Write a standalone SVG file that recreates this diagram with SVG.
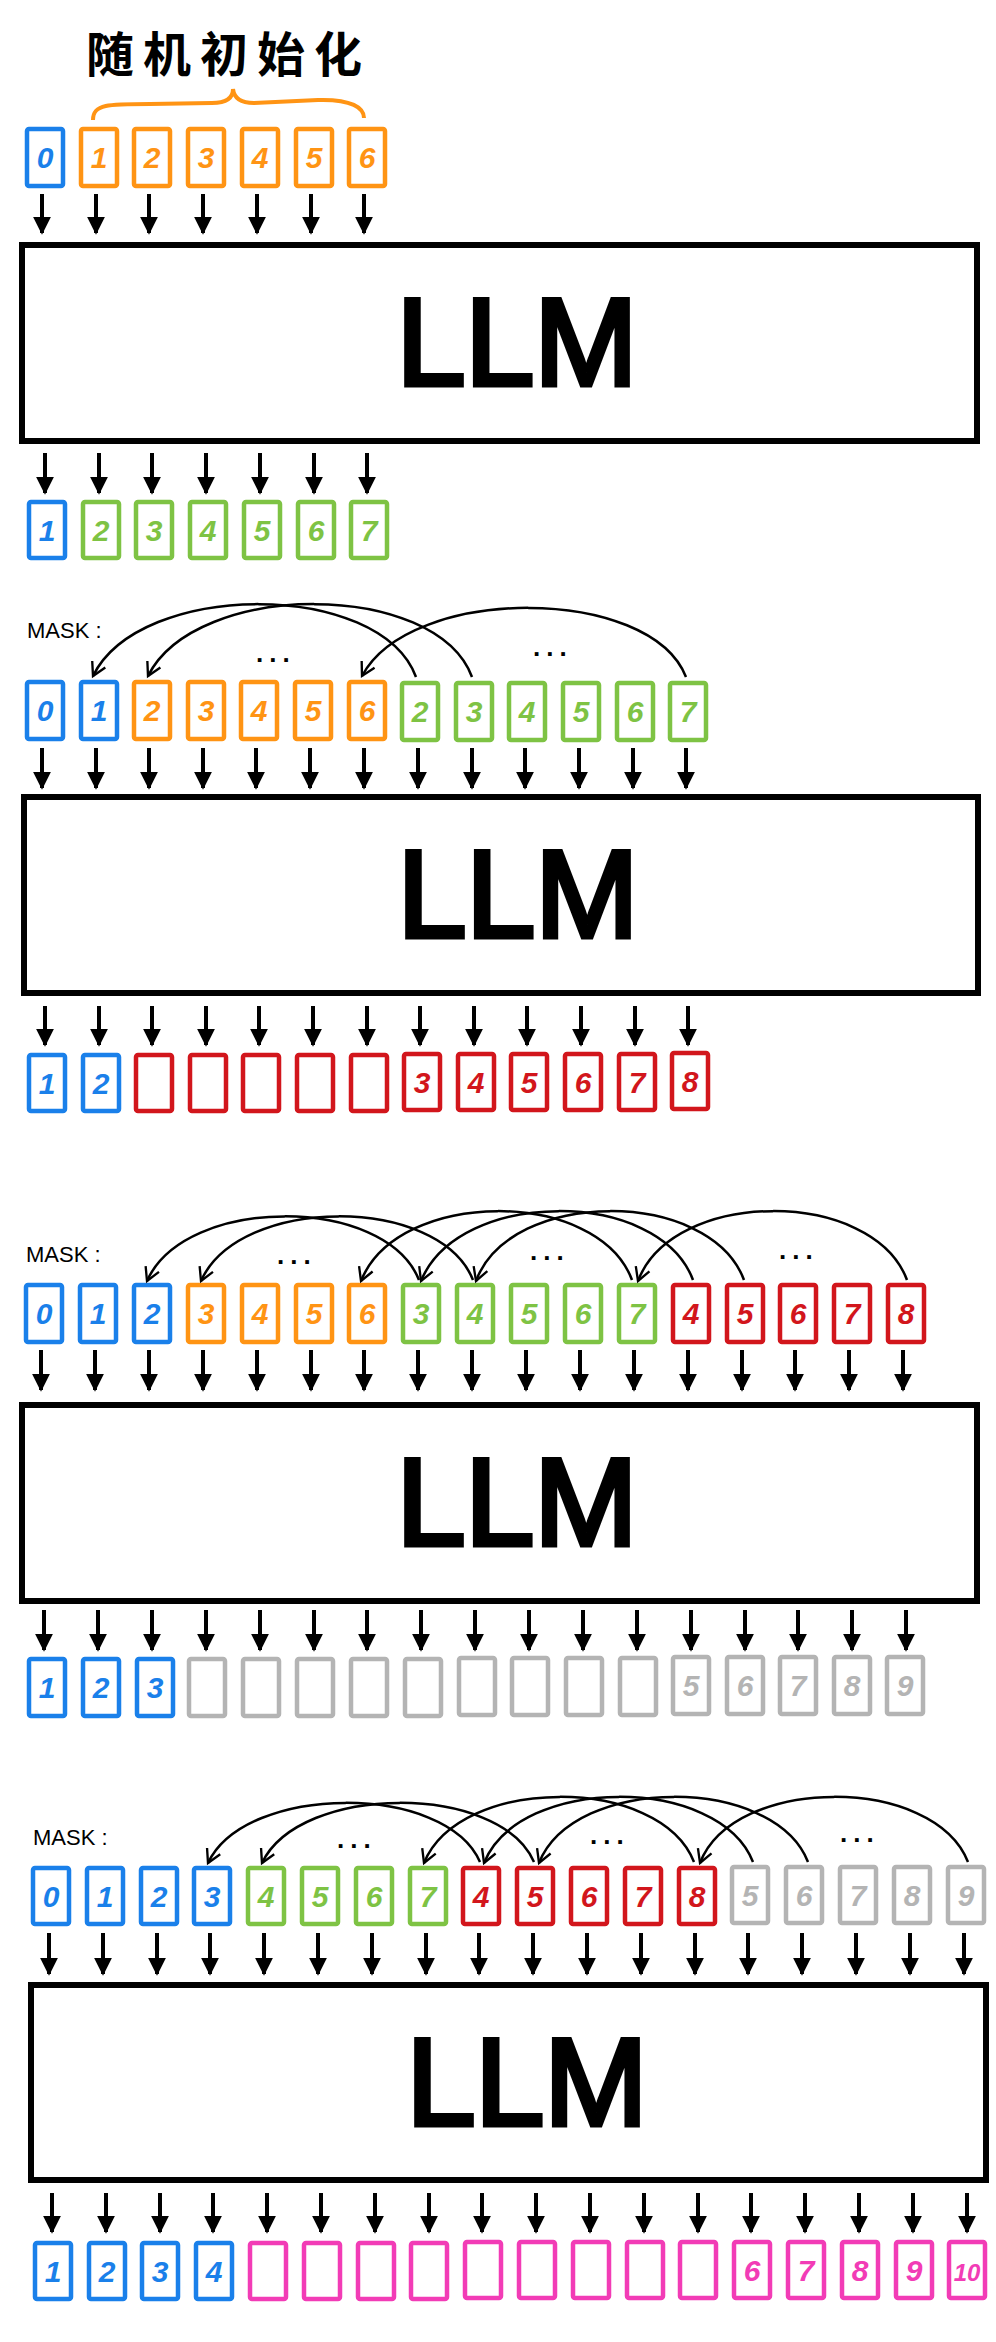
<svg xmlns="http://www.w3.org/2000/svg" width="996" height="2342" viewBox="0 0 996 2342">
<style>
.b{fill:#fff;stroke-width:4.5;rx:2}
.bl{stroke:#1a80ea}.or{stroke:#ff9414}.gr{stroke:#7ec344}.rd{stroke:#d2161c}.gy{stroke:#b4b4b4}.pk{stroke:#f23cb6}
text.n{font-family:"Liberation Sans",sans-serif;font-style:italic;font-weight:bold;font-size:30px;text-anchor:middle}
.tbl{fill:#1a80ea}.tor{fill:#ff9414}.tgr{fill:#7ec344}.trd{fill:#d2161c}.tgy{fill:#b4b4b4}.tpk{fill:#f23cb6}
.llm{fill:#fff;stroke:#000;stroke-width:6}
.llmt{font-family:"Liberation Sans",sans-serif;font-size:124px;text-anchor:middle;fill:#000;stroke:#000;stroke-width:5}
.ar{stroke:#000;stroke-width:4;fill:none}
.arc{stroke:#000;stroke-width:2.5;fill:none}
.mask{font-family:"Liberation Sans",sans-serif;font-size:22px;fill:#000}
.dots{font-family:"Liberation Sans",sans-serif;font-size:26px;font-weight:bold;fill:#000;letter-spacing:6px}
</style>
<defs>
<marker id="ah" viewBox="0 0 10 10" refX="9" refY="5" markerWidth="4.5" markerHeight="4.5" orient="auto" markerUnits="strokeWidth"><path d="M0,0 L10,5 L0,10 Z" fill="#000"/></marker>
<marker id="oh" viewBox="0 0 12 12" refX="10" refY="6" markerWidth="7" markerHeight="7" orient="auto" markerUnits="strokeWidth"><path d="M1,1 L10,6 L1,11" fill="none" stroke="#000" stroke-width="1.6"/></marker>
</defs>

<!-- Section 1 -->
<g id="title"><text x="86" y="72" style="font-family:'Noto Sans CJK SC',sans-serif;font-weight:bold;font-size:48px;letter-spacing:9px;fill:#000">随机初始化</text>
<path d="M93,120 C93,104 108,104 150,104 L212,103 C226,103 233,98 233,89 C234,98 240,103 254,103 L318,100 C352,99 364,108 364,118" fill="none" stroke="#ff9414" stroke-width="4"/></g>
<g id="s1in">
<rect class="b bl" x="27" y="129" width="36" height="57"/><text class="n tbl" x="45" y="168">0</text>
<rect class="b or" x="81" y="129" width="36" height="57"/><text class="n tor" x="99" y="168">1</text>
<rect class="b or" x="134" y="129" width="36" height="57"/><text class="n tor" x="152" y="168">2</text>
<rect class="b or" x="188" y="129" width="36" height="57"/><text class="n tor" x="206" y="168">3</text>
<rect class="b or" x="242" y="129" width="36" height="57"/><text class="n tor" x="260" y="168">4</text>
<rect class="b or" x="296" y="129" width="36" height="57"/><text class="n tor" x="314" y="168">5</text>
<rect class="b or" x="349" y="129" width="36" height="57"/><text class="n tor" x="367" y="168">6</text>
</g>
<g id="s1llm"><rect class="llm" x="22" y="245" width="955" height="196"/><text class="llmt" x="517" y="385">LLM</text></g>
<g id="s1out">
<rect class="b bl" x="29" y="502" width="36" height="56"/><text class="n tbl" x="47" y="541">1</text>
<rect class="b gr" x="83" y="502" width="36" height="56"/><text class="n tgr" x="101" y="541">2</text>
<rect class="b gr" x="136" y="502" width="36" height="56"/><text class="n tgr" x="154" y="541">3</text>
<rect class="b gr" x="190" y="502" width="36" height="56"/><text class="n tgr" x="208" y="541">4</text>
<rect class="b gr" x="244" y="502" width="36" height="56"/><text class="n tgr" x="262" y="541">5</text>
<rect class="b gr" x="298" y="502" width="36" height="56"/><text class="n tgr" x="316" y="541">6</text>
<rect class="b gr" x="351" y="502" width="36" height="56"/><text class="n tgr" x="369" y="541">7</text>
</g>
<g id="s1conn" class="ar" marker-end="url(#ah)">
<path d="M42,194V233"/><path d="M96,194V233"/><path d="M149,194V233"/><path d="M203,194V233"/><path d="M257,194V233"/><path d="M311,194V233"/><path d="M364,194V233"/>
<path d="M45,453V493"/><path d="M99,453V493"/><path d="M152,453V493"/><path d="M206,453V493"/><path d="M260,453V493"/><path d="M314,453V493"/><path d="M367,453V493"/>
</g>

<!-- Section 2 -->
<g id="s2mask"><text class="mask" x="27" y="638">MASK :</text><text class="dots" x="256" y="662">...</text><text class="dots" x="533" y="656">...</text></g>
<g id="s2in">
<rect class="b bl" x="27" y="682" width="36" height="57"/><text class="n tbl" x="45" y="721">0</text>
<rect class="b bl" x="81" y="682" width="36" height="57"/><text class="n tbl" x="99" y="721">1</text>
<rect class="b or" x="134" y="682" width="36" height="57"/><text class="n tor" x="152" y="721">2</text>
<rect class="b or" x="188" y="682" width="36" height="57"/><text class="n tor" x="206" y="721">3</text>
<rect class="b or" x="241" y="682" width="36" height="57"/><text class="n tor" x="259" y="721">4</text>
<rect class="b or" x="295" y="682" width="36" height="57"/><text class="n tor" x="313" y="721">5</text>
<rect class="b or" x="349" y="682" width="36" height="57"/><text class="n tor" x="367" y="721">6</text>
<rect class="b gr" x="402" y="683" width="36" height="57"/><text class="n tgr" x="420" y="722">2</text>
<rect class="b gr" x="456" y="683" width="36" height="57"/><text class="n tgr" x="474" y="722">3</text>
<rect class="b gr" x="509" y="683" width="36" height="57"/><text class="n tgr" x="527" y="722">4</text>
<rect class="b gr" x="563" y="683" width="36" height="57"/><text class="n tgr" x="581" y="722">5</text>
<rect class="b gr" x="617" y="683" width="36" height="57"/><text class="n tgr" x="635" y="722">6</text>
<rect class="b gr" x="670" y="683" width="36" height="57"/><text class="n tgr" x="688" y="722">7</text>
</g>
<g id="s2llm"><rect class="llm" x="24" y="797" width="954" height="196"/><text class="llmt" x="518" y="937">LLM</text></g>
<g id="s2out">
<rect class="b bl" x="29" y="1055" width="36" height="56"/><text class="n tbl" x="47" y="1094">1</text>
<rect class="b bl" x="83" y="1055" width="36" height="56"/><text class="n tbl" x="101" y="1094">2</text>
<rect class="b rd" x="136" y="1055" width="36" height="56"/>
<rect class="b rd" x="190" y="1055" width="36" height="56"/>
<rect class="b rd" x="243" y="1055" width="36" height="56"/>
<rect class="b rd" x="297" y="1055" width="36" height="56"/>
<rect class="b rd" x="351" y="1055" width="36" height="56"/>
<rect class="b rd" x="404" y="1054" width="36" height="56"/><text class="n trd" x="422" y="1093">3</text>
<rect class="b rd" x="458" y="1054" width="36" height="56"/><text class="n trd" x="476" y="1093">4</text>
<rect class="b rd" x="511" y="1054" width="36" height="56"/><text class="n trd" x="529" y="1093">5</text>
<rect class="b rd" x="565" y="1054" width="36" height="56"/><text class="n trd" x="583" y="1093">6</text>
<rect class="b rd" x="619" y="1054" width="36" height="56"/><text class="n trd" x="637" y="1093">7</text>
<rect class="b rd" x="672" y="1053" width="36" height="56"/><text class="n trd" x="690" y="1092">8</text>
</g>
<g id="s2conn">
<g class="ar" marker-end="url(#ah)">
<path d="M42,748V788"/><path d="M96,748V788"/><path d="M149,748V788"/><path d="M203,748V788"/><path d="M256,748V788"/><path d="M310,748V788"/><path d="M364,748V788"/><path d="M418,748V788"/><path d="M472,748V788"/><path d="M525,748V788"/><path d="M579,748V788"/><path d="M633,748V788"/><path d="M686,748V788"/>
<path d="M45,1006V1045"/><path d="M99,1006V1045"/><path d="M152,1006V1045"/><path d="M206,1006V1045"/><path d="M259,1006V1045"/><path d="M313,1006V1045"/><path d="M367,1006V1045"/><path d="M420,1006V1045"/><path d="M474,1006V1045"/><path d="M527,1006V1045"/><path d="M581,1006V1045"/><path d="M635,1006V1045"/><path d="M688,1006V1045"/>
</g>
<g class="arc" marker-end="url(#oh)">
<path d="M416,677 C380,580 140,580 93,676"/>
<path d="M472,677 C436,580 196,580 148,676"/>
<path d="M686,677 C650,585 410,585 362,676"/>
</g>
</g>

<!-- Section 3 -->
<g id="s3mask"><text class="mask" x="26" y="1262">MASK :</text><text class="dots" x="277" y="1264">...</text><text class="dots" x="530" y="1260">...</text><text class="dots" x="779" y="1259">...</text></g>
<g id="s3in">
<rect class="b bl" x="26" y="1285" width="36" height="57"/><text class="n tbl" x="44" y="1324">0</text>
<rect class="b bl" x="80" y="1285" width="36" height="57"/><text class="n tbl" x="98" y="1324">1</text>
<rect class="b bl" x="134" y="1285" width="36" height="57"/><text class="n tbl" x="152" y="1324">2</text>
<rect class="b or" x="188" y="1285" width="36" height="57"/><text class="n tor" x="206" y="1324">3</text>
<rect class="b or" x="242" y="1285" width="36" height="57"/><text class="n tor" x="260" y="1324">4</text>
<rect class="b or" x="296" y="1285" width="36" height="57"/><text class="n tor" x="314" y="1324">5</text>
<rect class="b or" x="349" y="1285" width="36" height="57"/><text class="n tor" x="367" y="1324">6</text>
<rect class="b gr" x="403" y="1285" width="36" height="57"/><text class="n tgr" x="421" y="1324">3</text>
<rect class="b gr" x="457" y="1285" width="36" height="57"/><text class="n tgr" x="475" y="1324">4</text>
<rect class="b gr" x="511" y="1285" width="36" height="57"/><text class="n tgr" x="529" y="1324">5</text>
<rect class="b gr" x="565" y="1285" width="36" height="57"/><text class="n tgr" x="583" y="1324">6</text>
<rect class="b gr" x="619" y="1285" width="36" height="57"/><text class="n tgr" x="637" y="1324">7</text>
<rect class="b rd" x="673" y="1285" width="36" height="57"/><text class="n trd" x="691" y="1324">4</text>
<rect class="b rd" x="727" y="1285" width="36" height="57"/><text class="n trd" x="745" y="1324">5</text>
<rect class="b rd" x="780" y="1285" width="36" height="57"/><text class="n trd" x="798" y="1324">6</text>
<rect class="b rd" x="834" y="1285" width="36" height="57"/><text class="n trd" x="852" y="1324">7</text>
<rect class="b rd" x="888" y="1285" width="36" height="57"/><text class="n trd" x="906" y="1324">8</text>
</g>
<g id="s3llm"><rect class="llm" x="22" y="1405" width="955" height="196"/><text class="llmt" x="517" y="1545">LLM</text></g>
<g id="s3out">
<rect class="b bl" x="29" y="1659" width="36" height="57"/><text class="n tbl" x="47" y="1698">1</text>
<rect class="b bl" x="83" y="1659" width="36" height="57"/><text class="n tbl" x="101" y="1698">2</text>
<rect class="b bl" x="137" y="1659" width="36" height="57"/><text class="n tbl" x="155" y="1698">3</text>
<rect class="b gy" x="189" y="1659" width="36" height="57"/>
<rect class="b gy" x="243" y="1659" width="36" height="57"/>
<rect class="b gy" x="297" y="1659" width="36" height="57"/>
<rect class="b gy" x="351" y="1659" width="36" height="57"/>
<rect class="b gy" x="405" y="1659" width="36" height="57"/>
<rect class="b gy" x="459" y="1658" width="36" height="57"/>
<rect class="b gy" x="512" y="1658" width="36" height="57"/>
<rect class="b gy" x="566" y="1658" width="36" height="57"/>
<rect class="b gy" x="620" y="1658" width="36" height="57"/>
<rect class="b gy" x="673" y="1657" width="36" height="57"/><text class="n tgy" x="691" y="1696">5</text>
<rect class="b gy" x="727" y="1657" width="36" height="57"/><text class="n tgy" x="745" y="1696">6</text>
<rect class="b gy" x="780" y="1657" width="36" height="57"/><text class="n tgy" x="798" y="1696">7</text>
<rect class="b gy" x="834" y="1657" width="36" height="57"/><text class="n tgy" x="852" y="1696">8</text>
<rect class="b gy" x="887" y="1657" width="36" height="57"/><text class="n tgy" x="905" y="1696">9</text>
</g>
<g id="s3conn">
<g class="ar" marker-end="url(#ah)">
<path d="M41,1350V1390"/><path d="M95,1350V1390"/><path d="M149,1350V1390"/><path d="M203,1350V1390"/><path d="M257,1350V1390"/><path d="M311,1350V1390"/><path d="M364,1350V1390"/><path d="M418,1350V1390"/><path d="M472,1350V1390"/><path d="M526,1350V1390"/><path d="M580,1350V1390"/><path d="M634,1350V1390"/><path d="M688,1350V1390"/><path d="M742,1350V1390"/><path d="M795,1350V1390"/><path d="M849,1350V1390"/><path d="M903,1350V1390"/>
<path d="M44,1610V1650"/><path d="M98,1610V1650"/><path d="M152,1610V1650"/><path d="M206,1610V1650"/><path d="M260,1610V1650"/><path d="M314,1610V1650"/><path d="M367,1610V1650"/><path d="M421,1610V1650"/><path d="M475,1610V1650"/><path d="M529,1610V1650"/><path d="M583,1610V1650"/><path d="M637,1610V1650"/><path d="M691,1610V1650"/><path d="M745,1610V1650"/><path d="M798,1610V1650"/><path d="M852,1610V1650"/><path d="M906,1610V1650"/>
</g>
<g class="arc" marker-end="url(#oh)">
<path d="M419,1280 C385,1195 185,1195 147,1281"/>
<path d="M473,1280 C439,1195 239,1195 201,1281"/>
<path d="M632,1280 C598,1188 398,1188 361,1281"/>
<path d="M693,1280 C659,1188 459,1188 421,1281"/>
<path d="M744,1280 C710,1188 510,1188 476,1281"/>
<path d="M907,1280 C873,1188 673,1188 638,1281"/>
</g>
</g>

<!-- Section 4 -->
<g id="s4mask"><text class="mask" x="33" y="1845">MASK :</text><text class="dots" x="337" y="1848">...</text><text class="dots" x="590" y="1844">...</text><text class="dots" x="840" y="1842">...</text></g>
<g id="s4in">
<rect class="b bl" x="33" y="1868" width="36" height="56"/><text class="n tbl" x="51" y="1907">0</text>
<rect class="b bl" x="87" y="1868" width="36" height="56"/><text class="n tbl" x="105" y="1907">1</text>
<rect class="b bl" x="141" y="1868" width="36" height="56"/><text class="n tbl" x="159" y="1907">2</text>
<rect class="b bl" x="194" y="1868" width="36" height="56"/><text class="n tbl" x="212" y="1907">3</text>
<rect class="b gr" x="248" y="1868" width="36" height="56"/><text class="n tgr" x="266" y="1907">4</text>
<rect class="b gr" x="302" y="1868" width="36" height="56"/><text class="n tgr" x="320" y="1907">5</text>
<rect class="b gr" x="356" y="1868" width="36" height="56"/><text class="n tgr" x="374" y="1907">6</text>
<rect class="b gr" x="410" y="1868" width="36" height="56"/><text class="n tgr" x="428" y="1907">7</text>
<rect class="b rd" x="463" y="1868" width="36" height="56"/><text class="n trd" x="481" y="1907">4</text>
<rect class="b rd" x="517" y="1868" width="36" height="56"/><text class="n trd" x="535" y="1907">5</text>
<rect class="b rd" x="571" y="1868" width="36" height="56"/><text class="n trd" x="589" y="1907">6</text>
<rect class="b rd" x="625" y="1868" width="36" height="56"/><text class="n trd" x="643" y="1907">7</text>
<rect class="b rd" x="679" y="1868" width="36" height="56"/><text class="n trd" x="697" y="1907">8</text>
<rect class="b gy" x="732" y="1867" width="36" height="56"/><text class="n tgy" x="750" y="1906">5</text>
<rect class="b gy" x="786" y="1867" width="36" height="56"/><text class="n tgy" x="804" y="1906">6</text>
<rect class="b gy" x="840" y="1867" width="36" height="56"/><text class="n tgy" x="858" y="1906">7</text>
<rect class="b gy" x="894" y="1867" width="36" height="56"/><text class="n tgy" x="912" y="1906">8</text>
<rect class="b gy" x="948" y="1867" width="36" height="56"/><text class="n tgy" x="966" y="1906">9</text>
</g>
<g id="s4llm"><rect class="llm" x="31" y="1985" width="955" height="195"/><text class="llmt" x="527" y="2125">LLM</text></g>
<g id="s4out">
<rect class="b bl" x="35" y="2243" width="36" height="56"/><text class="n tbl" x="53" y="2282">1</text>
<rect class="b bl" x="89" y="2243" width="36" height="56"/><text class="n tbl" x="107" y="2282">2</text>
<rect class="b bl" x="142" y="2243" width="36" height="56"/><text class="n tbl" x="160" y="2282">3</text>
<rect class="b bl" x="196" y="2243" width="36" height="56"/><text class="n tbl" x="214" y="2282">4</text>
<rect class="b pk" x="250" y="2243" width="36" height="56"/>
<rect class="b pk" x="304" y="2243" width="36" height="56"/>
<rect class="b pk" x="358" y="2243" width="36" height="56"/>
<rect class="b pk" x="411" y="2243" width="36" height="56"/>
<rect class="b pk" x="465" y="2242" width="36" height="56"/>
<rect class="b pk" x="519" y="2242" width="36" height="56"/>
<rect class="b pk" x="573" y="2242" width="36" height="56"/>
<rect class="b pk" x="627" y="2242" width="36" height="56"/>
<rect class="b pk" x="680" y="2242" width="36" height="56"/>
<rect class="b pk" x="734" y="2242" width="36" height="56"/><text class="n tpk" x="752" y="2281">6</text>
<rect class="b pk" x="788" y="2242" width="36" height="56"/><text class="n tpk" x="806" y="2281">7</text>
<rect class="b pk" x="842" y="2242" width="36" height="56"/><text class="n tpk" x="860" y="2281">8</text>
<rect class="b pk" x="896" y="2242" width="36" height="56"/><text class="n tpk" x="914" y="2281">9</text>
<rect class="b pk" x="949" y="2242" width="36" height="56"/><text class="n tpk" x="967" y="2281" style="font-size:24px">10</text>
</g>
<g id="s4conn">
<g class="ar" marker-end="url(#ah)">
<path d="M49,1933V1974"/><path d="M103,1933V1974"/><path d="M157,1933V1974"/><path d="M210,1933V1974"/><path d="M264,1933V1974"/><path d="M318,1933V1974"/><path d="M372,1933V1974"/><path d="M426,1933V1974"/><path d="M479,1933V1974"/><path d="M533,1933V1974"/><path d="M587,1933V1974"/><path d="M641,1933V1974"/><path d="M695,1933V1974"/><path d="M748,1933V1974"/><path d="M802,1933V1974"/><path d="M856,1933V1974"/><path d="M910,1933V1974"/><path d="M964,1933V1974"/>
<path d="M52,2193V2232"/><path d="M106,2193V2232"/><path d="M160,2193V2232"/><path d="M213,2193V2232"/><path d="M267,2193V2232"/><path d="M321,2193V2232"/><path d="M375,2193V2232"/><path d="M429,2193V2232"/><path d="M482,2193V2232"/><path d="M536,2193V2232"/><path d="M590,2193V2232"/><path d="M644,2193V2232"/><path d="M698,2193V2232"/><path d="M751,2193V2232"/><path d="M805,2193V2232"/><path d="M859,2193V2232"/><path d="M913,2193V2232"/><path d="M967,2193V2232"/>
</g>
<g class="arc" marker-end="url(#oh)">
<path d="M480,1862 C446,1783 246,1783 208,1863"/>
<path d="M534,1862 C500,1783 300,1783 262,1863"/>
<path d="M694,1862 C660,1775 460,1775 424,1863"/>
<path d="M753,1862 C719,1775 519,1775 484,1863"/>
<path d="M808,1862 C774,1775 574,1775 539,1863"/>
<path d="M968,1862 C934,1775 734,1775 700,1863"/>
</g>
</g>
</svg>
